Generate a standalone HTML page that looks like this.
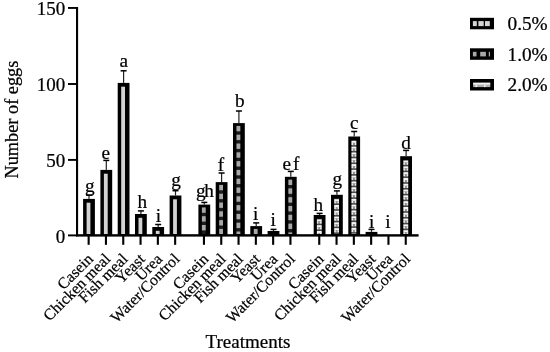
<!DOCTYPE html>
<html><head><meta charset="utf-8"><title>Number of eggs by treatment</title>
<style>
html,body{margin:0;padding:0;background:#fff;overflow:hidden;}
svg{display:block;}
text{font-family:"Liberation Serif","Times New Roman",serif;fill:#000;stroke:#000;stroke-width:0.22px;}
</style></head><body>
<svg width="550" height="352" viewBox="0 0 550 352">
<rect x="76" y="7" width="2.1" height="229.2" fill="#000"/>
<rect x="76" y="234.2" width="342.6" height="2.4" fill="#000"/>
<rect x="68" y="234.45" width="9" height="1.9" fill="#000"/>
<text transform="translate(65.3,242.80) scale(1.04,1)" font-size="18.3" text-anchor="end">0</text>
<rect x="68" y="158.95" width="9" height="1.9" fill="#000"/>
<text transform="translate(65.3,167.30) scale(1.04,1)" font-size="18.3" text-anchor="end">50</text>
<rect x="68" y="83.05" width="9" height="1.9" fill="#000"/>
<text transform="translate(65.3,91.30) scale(1.04,1)" font-size="18.3" text-anchor="end">100</text>
<rect x="68" y="7.00" width="9" height="1.9" fill="#000"/>
<text transform="translate(65.3,14.90) scale(1.04,1)" font-size="18.3" text-anchor="end">150</text>
<rect x="87.60" y="235" width="2.1" height="9.8" fill="#000"/>
<rect x="83.10" y="198.90" width="11.8" height="36.10" fill="#000"/>
<rect x="86.60" y="202.70" width="3.80" height="31.30" fill="#d3d3d3"/>
<rect x="88.40" y="195.00" width="1.2" height="3.90" fill="#222"/>
<rect x="86.00" y="194.25" width="6" height="1.5" fill="#000"/>
<text transform="translate(89.80,192.30) scale(1.04,1)" font-size="18.5" text-anchor="middle">g</text>
<text transform="translate(94.00,260) scale(1.0,1) rotate(-45)" font-size="15.8" text-anchor="end">Casein</text>
<rect x="104.90" y="235" width="2.1" height="9.8" fill="#000"/>
<rect x="100.40" y="169.90" width="11.8" height="65.10" fill="#000"/>
<rect x="103.90" y="173.70" width="3.80" height="60.30" fill="#d3d3d3"/>
<rect x="105.70" y="160.40" width="1.2" height="9.50" fill="#222"/>
<rect x="103.30" y="159.65" width="6" height="1.5" fill="#000"/>
<text transform="translate(105.80,159.00) scale(1.04,1)" font-size="18.5" text-anchor="middle">e</text>
<text transform="translate(111.30,260) scale(1.0,1) rotate(-45)" font-size="15.8" text-anchor="end">Chicken meal</text>
<rect x="122.20" y="235" width="2.1" height="9.8" fill="#000"/>
<rect x="117.70" y="82.90" width="11.8" height="152.10" fill="#000"/>
<rect x="121.20" y="86.70" width="3.80" height="147.30" fill="#d3d3d3"/>
<rect x="123.00" y="70.80" width="1.2" height="12.10" fill="#222"/>
<rect x="120.60" y="70.05" width="6" height="1.5" fill="#000"/>
<text transform="translate(123.80,66.90) scale(1.04,1)" font-size="18.5" text-anchor="middle">a</text>
<text transform="translate(128.60,260) scale(1.0,1) rotate(-45)" font-size="15.8" text-anchor="end">Fish meal</text>
<rect x="139.50" y="235" width="2.1" height="9.8" fill="#000"/>
<rect x="135.00" y="214.00" width="11.8" height="21.00" fill="#000"/>
<rect x="138.50" y="217.80" width="3.80" height="16.20" fill="#d3d3d3"/>
<rect x="140.30" y="210.90" width="1.2" height="3.10" fill="#222"/>
<rect x="137.90" y="210.15" width="6" height="1.5" fill="#000"/>
<text transform="translate(142.30,207.80) scale(1.04,1)" font-size="18.5" text-anchor="middle">h</text>
<text transform="translate(145.90,260) scale(1.0,1) rotate(-45)" font-size="15.8" text-anchor="end">Yeast</text>
<rect x="156.80" y="235" width="2.1" height="9.8" fill="#000"/>
<rect x="152.30" y="227.00" width="11.8" height="8.00" fill="#000"/>
<rect x="155.80" y="230.80" width="3.80" height="3.20" fill="#d3d3d3"/>
<rect x="157.60" y="224.50" width="1.2" height="2.50" fill="#222"/>
<rect x="155.20" y="223.75" width="6" height="1.5" fill="#000"/>
<text transform="translate(158.40,222.40) scale(1.04,1)" font-size="18.5" text-anchor="middle">i</text>
<text transform="translate(163.20,260) scale(1.0,1) rotate(-45)" font-size="15.8" text-anchor="end">Urea</text>
<rect x="174.10" y="235" width="2.1" height="9.8" fill="#000"/>
<rect x="169.60" y="195.50" width="11.8" height="39.50" fill="#000"/>
<rect x="173.10" y="199.30" width="3.80" height="34.70" fill="#d3d3d3"/>
<rect x="174.90" y="190.70" width="1.2" height="4.80" fill="#222"/>
<rect x="172.50" y="189.95" width="6" height="1.5" fill="#000"/>
<text transform="translate(176.10,186.00) scale(1.04,1)" font-size="18.5" text-anchor="middle">g</text>
<text transform="translate(180.50,260) scale(1.0,1) rotate(-45)" font-size="15.8" text-anchor="end">Water/Control</text>
<rect x="202.90" y="235" width="2.1" height="9.8" fill="#000"/>
<rect x="198.40" y="204.60" width="11.8" height="30.40" fill="#000"/>
<rect x="201.90" y="208.40" width="3.80" height="25.60" fill="#1c1c1c"/>
<rect x="201.90" y="207.40" width="3.80" height="5.40" fill="#a8a8a8"/>
<rect x="201.90" y="216.20" width="3.80" height="5.40" fill="#a8a8a8"/>
<rect x="201.90" y="225.00" width="3.80" height="5.40" fill="#a8a8a8"/>
<rect x="203.70" y="202.40" width="1.2" height="2.20" fill="#222"/>
<rect x="201.30" y="201.65" width="6" height="1.5" fill="#000"/>
<text transform="translate(204.28,196.50) scale(1.04,1)" font-size="18.5" text-anchor="middle" letter-spacing="-1.2">gh</text>
<text transform="translate(209.30,260) scale(1.0,1) rotate(-45)" font-size="15.8" text-anchor="end">Casein</text>
<rect x="220.20" y="235" width="2.1" height="9.8" fill="#000"/>
<rect x="215.70" y="182.10" width="11.8" height="52.90" fill="#000"/>
<rect x="219.20" y="185.90" width="3.80" height="48.10" fill="#1c1c1c"/>
<rect x="219.20" y="184.90" width="3.80" height="5.40" fill="#a8a8a8"/>
<rect x="219.20" y="193.70" width="3.80" height="5.40" fill="#a8a8a8"/>
<rect x="219.20" y="202.50" width="3.80" height="5.40" fill="#a8a8a8"/>
<rect x="219.20" y="211.30" width="3.80" height="5.40" fill="#a8a8a8"/>
<rect x="219.20" y="220.10" width="3.80" height="5.40" fill="#a8a8a8"/>
<rect x="219.20" y="228.90" width="3.80" height="5.10" fill="#a8a8a8"/>
<rect x="221.00" y="173.00" width="1.2" height="9.10" fill="#222"/>
<rect x="218.60" y="172.25" width="6" height="1.5" fill="#000"/>
<text transform="translate(221.00,171.40) scale(1.04,1)" font-size="18.5" text-anchor="middle">f</text>
<text transform="translate(226.60,260) scale(1.0,1) rotate(-45)" font-size="15.8" text-anchor="end">Chicken meal</text>
<rect x="237.50" y="235" width="2.1" height="9.8" fill="#000"/>
<rect x="233.00" y="123.10" width="11.8" height="111.90" fill="#000"/>
<rect x="236.50" y="126.90" width="3.80" height="107.10" fill="#1c1c1c"/>
<rect x="236.50" y="125.90" width="3.80" height="5.40" fill="#a8a8a8"/>
<rect x="236.50" y="134.70" width="3.80" height="5.40" fill="#a8a8a8"/>
<rect x="236.50" y="143.50" width="3.80" height="5.40" fill="#a8a8a8"/>
<rect x="236.50" y="152.30" width="3.80" height="5.40" fill="#a8a8a8"/>
<rect x="236.50" y="161.10" width="3.80" height="5.40" fill="#a8a8a8"/>
<rect x="236.50" y="169.90" width="3.80" height="5.40" fill="#a8a8a8"/>
<rect x="236.50" y="178.70" width="3.80" height="5.40" fill="#a8a8a8"/>
<rect x="236.50" y="187.50" width="3.80" height="5.40" fill="#a8a8a8"/>
<rect x="236.50" y="196.30" width="3.80" height="5.40" fill="#a8a8a8"/>
<rect x="236.50" y="205.10" width="3.80" height="5.40" fill="#a8a8a8"/>
<rect x="236.50" y="213.90" width="3.80" height="5.40" fill="#a8a8a8"/>
<rect x="236.50" y="222.70" width="3.80" height="5.40" fill="#a8a8a8"/>
<rect x="236.50" y="231.50" width="3.80" height="2.50" fill="#a8a8a8"/>
<rect x="238.30" y="111.00" width="1.2" height="12.10" fill="#222"/>
<rect x="235.90" y="110.25" width="6" height="1.5" fill="#000"/>
<text transform="translate(239.80,107.40) scale(1.04,1)" font-size="18.5" text-anchor="middle">b</text>
<text transform="translate(243.90,260) scale(1.0,1) rotate(-45)" font-size="15.8" text-anchor="end">Fish meal</text>
<rect x="254.80" y="235" width="2.1" height="9.8" fill="#000"/>
<rect x="250.30" y="226.10" width="11.8" height="8.90" fill="#000"/>
<rect x="253.80" y="229.90" width="3.80" height="4.10" fill="#1c1c1c"/>
<rect x="253.80" y="228.90" width="3.80" height="5.10" fill="#a8a8a8"/>
<rect x="255.60" y="222.90" width="1.2" height="3.20" fill="#222"/>
<rect x="253.20" y="222.15" width="6" height="1.5" fill="#000"/>
<text transform="translate(255.70,219.80) scale(1.04,1)" font-size="18.5" text-anchor="middle">i</text>
<text transform="translate(261.20,260) scale(1.0,1) rotate(-45)" font-size="15.8" text-anchor="end">Yeast</text>
<rect x="272.10" y="235" width="2.1" height="9.8" fill="#000"/>
<rect x="267.60" y="231.00" width="11.8" height="4.00" fill="#000"/>
<rect x="272.90" y="229.40" width="1.2" height="1.60" fill="#222"/>
<rect x="270.50" y="228.65" width="6" height="1.5" fill="#000"/>
<text transform="translate(273.15,225.80) scale(1.04,1)" font-size="18.5" text-anchor="middle">i</text>
<text transform="translate(278.50,260) scale(1.0,1) rotate(-45)" font-size="15.8" text-anchor="end">Urea</text>
<rect x="289.40" y="235" width="2.1" height="9.8" fill="#000"/>
<rect x="284.90" y="176.80" width="11.8" height="58.20" fill="#000"/>
<rect x="288.40" y="180.60" width="3.80" height="53.40" fill="#1c1c1c"/>
<rect x="288.40" y="179.60" width="3.80" height="5.40" fill="#a8a8a8"/>
<rect x="288.40" y="188.40" width="3.80" height="5.40" fill="#a8a8a8"/>
<rect x="288.40" y="197.20" width="3.80" height="5.40" fill="#a8a8a8"/>
<rect x="288.40" y="206.00" width="3.80" height="5.40" fill="#a8a8a8"/>
<rect x="288.40" y="214.80" width="3.80" height="5.40" fill="#a8a8a8"/>
<rect x="288.40" y="223.60" width="3.80" height="5.40" fill="#a8a8a8"/>
<rect x="288.40" y="232.40" width="3.80" height="1.60" fill="#a8a8a8"/>
<rect x="290.20" y="171.40" width="1.2" height="5.40" fill="#222"/>
<rect x="287.80" y="170.65" width="6" height="1.5" fill="#000"/>
<text transform="translate(292.04,170.30) scale(1.04,1)" font-size="18.5" text-anchor="middle" letter-spacing="2.0">ef</text>
<text transform="translate(295.80,260) scale(1.0,1) rotate(-45)" font-size="15.8" text-anchor="end">Water/Control</text>
<rect x="318.20" y="235" width="2.1" height="9.8" fill="#000"/>
<rect x="313.70" y="215.00" width="11.8" height="20.00" fill="#000"/>
<rect x="316.90" y="218.80" width="4.80" height="15.20" fill="#4a4a4a"/>
<rect x="316.90" y="219.40" width="4.80" height="2.00" fill="#f4f4f4"/>
<rect x="316.90" y="221.40" width="1.73" height="2.20" fill="#ececec"/>
<rect x="319.97" y="221.40" width="1.73" height="2.20" fill="#ececec"/>
<rect x="318.63" y="221.40" width="1.34" height="2.20" fill="#9a9a9a"/>
<rect x="316.90" y="225.20" width="4.80" height="2.00" fill="#f4f4f4"/>
<rect x="316.90" y="227.20" width="1.73" height="2.20" fill="#ececec"/>
<rect x="319.97" y="227.20" width="1.73" height="2.20" fill="#ececec"/>
<rect x="318.63" y="227.20" width="1.34" height="2.20" fill="#9a9a9a"/>
<rect x="316.90" y="231.00" width="4.80" height="2.00" fill="#f4f4f4"/>
<rect x="316.90" y="233.00" width="1.73" height="1.00" fill="#ececec"/>
<rect x="319.97" y="233.00" width="1.73" height="1.00" fill="#ececec"/>
<rect x="318.63" y="233.00" width="1.34" height="1.00" fill="#9a9a9a"/>
<rect x="319.00" y="213.40" width="1.2" height="1.60" fill="#222"/>
<rect x="316.60" y="212.65" width="6" height="1.5" fill="#000"/>
<text transform="translate(318.40,211.40) scale(1.04,1)" font-size="18.5" text-anchor="middle">h</text>
<text transform="translate(324.60,260) scale(1.0,1) rotate(-45)" font-size="15.8" text-anchor="end">Casein</text>
<rect x="335.50" y="235" width="2.1" height="9.8" fill="#000"/>
<rect x="331.00" y="194.80" width="11.8" height="40.20" fill="#000"/>
<rect x="334.20" y="198.60" width="4.80" height="35.40" fill="#4a4a4a"/>
<rect x="334.20" y="199.20" width="4.80" height="2.00" fill="#f4f4f4"/>
<rect x="334.20" y="201.20" width="1.73" height="2.20" fill="#ececec"/>
<rect x="337.27" y="201.20" width="1.73" height="2.20" fill="#ececec"/>
<rect x="335.93" y="201.20" width="1.34" height="2.20" fill="#9a9a9a"/>
<rect x="334.20" y="205.00" width="4.80" height="2.00" fill="#f4f4f4"/>
<rect x="334.20" y="207.00" width="1.73" height="2.20" fill="#ececec"/>
<rect x="337.27" y="207.00" width="1.73" height="2.20" fill="#ececec"/>
<rect x="335.93" y="207.00" width="1.34" height="2.20" fill="#9a9a9a"/>
<rect x="334.20" y="210.80" width="4.80" height="2.00" fill="#f4f4f4"/>
<rect x="334.20" y="212.80" width="1.73" height="2.20" fill="#ececec"/>
<rect x="337.27" y="212.80" width="1.73" height="2.20" fill="#ececec"/>
<rect x="335.93" y="212.80" width="1.34" height="2.20" fill="#9a9a9a"/>
<rect x="334.20" y="216.60" width="4.80" height="2.00" fill="#f4f4f4"/>
<rect x="334.20" y="218.60" width="1.73" height="2.20" fill="#ececec"/>
<rect x="337.27" y="218.60" width="1.73" height="2.20" fill="#ececec"/>
<rect x="335.93" y="218.60" width="1.34" height="2.20" fill="#9a9a9a"/>
<rect x="334.20" y="222.40" width="4.80" height="2.00" fill="#f4f4f4"/>
<rect x="334.20" y="224.40" width="1.73" height="2.20" fill="#ececec"/>
<rect x="337.27" y="224.40" width="1.73" height="2.20" fill="#ececec"/>
<rect x="335.93" y="224.40" width="1.34" height="2.20" fill="#9a9a9a"/>
<rect x="334.20" y="228.20" width="4.80" height="2.00" fill="#f4f4f4"/>
<rect x="334.20" y="230.20" width="1.73" height="2.20" fill="#ececec"/>
<rect x="337.27" y="230.20" width="1.73" height="2.20" fill="#ececec"/>
<rect x="335.93" y="230.20" width="1.34" height="2.20" fill="#9a9a9a"/>
<rect x="336.30" y="190.90" width="1.2" height="3.90" fill="#222"/>
<rect x="333.90" y="190.15" width="6" height="1.5" fill="#000"/>
<text transform="translate(337.30,185.20) scale(1.04,1)" font-size="18.5" text-anchor="middle">g</text>
<text transform="translate(341.90,260) scale(1.0,1) rotate(-45)" font-size="15.8" text-anchor="end">Chicken meal</text>
<rect x="352.80" y="235" width="2.1" height="9.8" fill="#000"/>
<rect x="348.30" y="136.50" width="11.8" height="98.50" fill="#000"/>
<rect x="351.50" y="140.30" width="4.80" height="93.70" fill="#4a4a4a"/>
<rect x="351.50" y="140.90" width="4.80" height="2.00" fill="#f4f4f4"/>
<rect x="351.50" y="142.90" width="1.73" height="2.20" fill="#ececec"/>
<rect x="354.57" y="142.90" width="1.73" height="2.20" fill="#ececec"/>
<rect x="353.23" y="142.90" width="1.34" height="2.20" fill="#9a9a9a"/>
<rect x="351.50" y="146.70" width="4.80" height="2.00" fill="#f4f4f4"/>
<rect x="351.50" y="148.70" width="1.73" height="2.20" fill="#ececec"/>
<rect x="354.57" y="148.70" width="1.73" height="2.20" fill="#ececec"/>
<rect x="353.23" y="148.70" width="1.34" height="2.20" fill="#9a9a9a"/>
<rect x="351.50" y="152.50" width="4.80" height="2.00" fill="#f4f4f4"/>
<rect x="351.50" y="154.50" width="1.73" height="2.20" fill="#ececec"/>
<rect x="354.57" y="154.50" width="1.73" height="2.20" fill="#ececec"/>
<rect x="353.23" y="154.50" width="1.34" height="2.20" fill="#9a9a9a"/>
<rect x="351.50" y="158.30" width="4.80" height="2.00" fill="#f4f4f4"/>
<rect x="351.50" y="160.30" width="1.73" height="2.20" fill="#ececec"/>
<rect x="354.57" y="160.30" width="1.73" height="2.20" fill="#ececec"/>
<rect x="353.23" y="160.30" width="1.34" height="2.20" fill="#9a9a9a"/>
<rect x="351.50" y="164.10" width="4.80" height="2.00" fill="#f4f4f4"/>
<rect x="351.50" y="166.10" width="1.73" height="2.20" fill="#ececec"/>
<rect x="354.57" y="166.10" width="1.73" height="2.20" fill="#ececec"/>
<rect x="353.23" y="166.10" width="1.34" height="2.20" fill="#9a9a9a"/>
<rect x="351.50" y="169.90" width="4.80" height="2.00" fill="#f4f4f4"/>
<rect x="351.50" y="171.90" width="1.73" height="2.20" fill="#ececec"/>
<rect x="354.57" y="171.90" width="1.73" height="2.20" fill="#ececec"/>
<rect x="353.23" y="171.90" width="1.34" height="2.20" fill="#9a9a9a"/>
<rect x="351.50" y="175.70" width="4.80" height="2.00" fill="#f4f4f4"/>
<rect x="351.50" y="177.70" width="1.73" height="2.20" fill="#ececec"/>
<rect x="354.57" y="177.70" width="1.73" height="2.20" fill="#ececec"/>
<rect x="353.23" y="177.70" width="1.34" height="2.20" fill="#9a9a9a"/>
<rect x="351.50" y="181.50" width="4.80" height="2.00" fill="#f4f4f4"/>
<rect x="351.50" y="183.50" width="1.73" height="2.20" fill="#ececec"/>
<rect x="354.57" y="183.50" width="1.73" height="2.20" fill="#ececec"/>
<rect x="353.23" y="183.50" width="1.34" height="2.20" fill="#9a9a9a"/>
<rect x="351.50" y="187.30" width="4.80" height="2.00" fill="#f4f4f4"/>
<rect x="351.50" y="189.30" width="1.73" height="2.20" fill="#ececec"/>
<rect x="354.57" y="189.30" width="1.73" height="2.20" fill="#ececec"/>
<rect x="353.23" y="189.30" width="1.34" height="2.20" fill="#9a9a9a"/>
<rect x="351.50" y="193.10" width="4.80" height="2.00" fill="#f4f4f4"/>
<rect x="351.50" y="195.10" width="1.73" height="2.20" fill="#ececec"/>
<rect x="354.57" y="195.10" width="1.73" height="2.20" fill="#ececec"/>
<rect x="353.23" y="195.10" width="1.34" height="2.20" fill="#9a9a9a"/>
<rect x="351.50" y="198.90" width="4.80" height="2.00" fill="#f4f4f4"/>
<rect x="351.50" y="200.90" width="1.73" height="2.20" fill="#ececec"/>
<rect x="354.57" y="200.90" width="1.73" height="2.20" fill="#ececec"/>
<rect x="353.23" y="200.90" width="1.34" height="2.20" fill="#9a9a9a"/>
<rect x="351.50" y="204.70" width="4.80" height="2.00" fill="#f4f4f4"/>
<rect x="351.50" y="206.70" width="1.73" height="2.20" fill="#ececec"/>
<rect x="354.57" y="206.70" width="1.73" height="2.20" fill="#ececec"/>
<rect x="353.23" y="206.70" width="1.34" height="2.20" fill="#9a9a9a"/>
<rect x="351.50" y="210.50" width="4.80" height="2.00" fill="#f4f4f4"/>
<rect x="351.50" y="212.50" width="1.73" height="2.20" fill="#ececec"/>
<rect x="354.57" y="212.50" width="1.73" height="2.20" fill="#ececec"/>
<rect x="353.23" y="212.50" width="1.34" height="2.20" fill="#9a9a9a"/>
<rect x="351.50" y="216.30" width="4.80" height="2.00" fill="#f4f4f4"/>
<rect x="351.50" y="218.30" width="1.73" height="2.20" fill="#ececec"/>
<rect x="354.57" y="218.30" width="1.73" height="2.20" fill="#ececec"/>
<rect x="353.23" y="218.30" width="1.34" height="2.20" fill="#9a9a9a"/>
<rect x="351.50" y="222.10" width="4.80" height="2.00" fill="#f4f4f4"/>
<rect x="351.50" y="224.10" width="1.73" height="2.20" fill="#ececec"/>
<rect x="354.57" y="224.10" width="1.73" height="2.20" fill="#ececec"/>
<rect x="353.23" y="224.10" width="1.34" height="2.20" fill="#9a9a9a"/>
<rect x="351.50" y="227.90" width="4.80" height="2.00" fill="#f4f4f4"/>
<rect x="351.50" y="229.90" width="1.73" height="2.20" fill="#ececec"/>
<rect x="354.57" y="229.90" width="1.73" height="2.20" fill="#ececec"/>
<rect x="353.23" y="229.90" width="1.34" height="2.20" fill="#9a9a9a"/>
<rect x="351.50" y="233.70" width="4.80" height="0.30" fill="#f4f4f4"/>
<rect x="353.60" y="131.50" width="1.2" height="5.00" fill="#222"/>
<rect x="351.20" y="130.75" width="6" height="1.5" fill="#000"/>
<text transform="translate(354.20,129.20) scale(1.04,1)" font-size="18.5" text-anchor="middle">c</text>
<text transform="translate(359.20,260) scale(1.0,1) rotate(-45)" font-size="15.8" text-anchor="end">Fish meal</text>
<rect x="370.10" y="235" width="2.1" height="9.8" fill="#000"/>
<rect x="365.60" y="231.90" width="11.8" height="3.10" fill="#000"/>
<rect x="370.90" y="229.40" width="1.2" height="2.50" fill="#222"/>
<rect x="368.50" y="228.65" width="6" height="1.5" fill="#000"/>
<text transform="translate(371.65,227.90) scale(1.04,1)" font-size="18.5" text-anchor="middle">i</text>
<text transform="translate(376.50,260) scale(1.0,1) rotate(-45)" font-size="15.8" text-anchor="end">Yeast</text>
<rect x="387.40" y="235" width="2.1" height="9.8" fill="#000"/>
<text transform="translate(388.05,228.00) scale(1.04,1)" font-size="18.5" text-anchor="middle">i</text>
<text transform="translate(393.80,260) scale(1.0,1) rotate(-45)" font-size="15.8" text-anchor="end">Urea</text>
<rect x="404.70" y="235" width="2.1" height="9.8" fill="#000"/>
<rect x="400.20" y="156.20" width="11.8" height="78.80" fill="#000"/>
<rect x="403.40" y="160.00" width="4.80" height="74.00" fill="#4a4a4a"/>
<rect x="403.40" y="160.60" width="4.80" height="2.00" fill="#f4f4f4"/>
<rect x="403.40" y="162.60" width="1.73" height="2.20" fill="#ececec"/>
<rect x="406.47" y="162.60" width="1.73" height="2.20" fill="#ececec"/>
<rect x="405.13" y="162.60" width="1.34" height="2.20" fill="#9a9a9a"/>
<rect x="403.40" y="166.40" width="4.80" height="2.00" fill="#f4f4f4"/>
<rect x="403.40" y="168.40" width="1.73" height="2.20" fill="#ececec"/>
<rect x="406.47" y="168.40" width="1.73" height="2.20" fill="#ececec"/>
<rect x="405.13" y="168.40" width="1.34" height="2.20" fill="#9a9a9a"/>
<rect x="403.40" y="172.20" width="4.80" height="2.00" fill="#f4f4f4"/>
<rect x="403.40" y="174.20" width="1.73" height="2.20" fill="#ececec"/>
<rect x="406.47" y="174.20" width="1.73" height="2.20" fill="#ececec"/>
<rect x="405.13" y="174.20" width="1.34" height="2.20" fill="#9a9a9a"/>
<rect x="403.40" y="178.00" width="4.80" height="2.00" fill="#f4f4f4"/>
<rect x="403.40" y="180.00" width="1.73" height="2.20" fill="#ececec"/>
<rect x="406.47" y="180.00" width="1.73" height="2.20" fill="#ececec"/>
<rect x="405.13" y="180.00" width="1.34" height="2.20" fill="#9a9a9a"/>
<rect x="403.40" y="183.80" width="4.80" height="2.00" fill="#f4f4f4"/>
<rect x="403.40" y="185.80" width="1.73" height="2.20" fill="#ececec"/>
<rect x="406.47" y="185.80" width="1.73" height="2.20" fill="#ececec"/>
<rect x="405.13" y="185.80" width="1.34" height="2.20" fill="#9a9a9a"/>
<rect x="403.40" y="189.60" width="4.80" height="2.00" fill="#f4f4f4"/>
<rect x="403.40" y="191.60" width="1.73" height="2.20" fill="#ececec"/>
<rect x="406.47" y="191.60" width="1.73" height="2.20" fill="#ececec"/>
<rect x="405.13" y="191.60" width="1.34" height="2.20" fill="#9a9a9a"/>
<rect x="403.40" y="195.40" width="4.80" height="2.00" fill="#f4f4f4"/>
<rect x="403.40" y="197.40" width="1.73" height="2.20" fill="#ececec"/>
<rect x="406.47" y="197.40" width="1.73" height="2.20" fill="#ececec"/>
<rect x="405.13" y="197.40" width="1.34" height="2.20" fill="#9a9a9a"/>
<rect x="403.40" y="201.20" width="4.80" height="2.00" fill="#f4f4f4"/>
<rect x="403.40" y="203.20" width="1.73" height="2.20" fill="#ececec"/>
<rect x="406.47" y="203.20" width="1.73" height="2.20" fill="#ececec"/>
<rect x="405.13" y="203.20" width="1.34" height="2.20" fill="#9a9a9a"/>
<rect x="403.40" y="207.00" width="4.80" height="2.00" fill="#f4f4f4"/>
<rect x="403.40" y="209.00" width="1.73" height="2.20" fill="#ececec"/>
<rect x="406.47" y="209.00" width="1.73" height="2.20" fill="#ececec"/>
<rect x="405.13" y="209.00" width="1.34" height="2.20" fill="#9a9a9a"/>
<rect x="403.40" y="212.80" width="4.80" height="2.00" fill="#f4f4f4"/>
<rect x="403.40" y="214.80" width="1.73" height="2.20" fill="#ececec"/>
<rect x="406.47" y="214.80" width="1.73" height="2.20" fill="#ececec"/>
<rect x="405.13" y="214.80" width="1.34" height="2.20" fill="#9a9a9a"/>
<rect x="403.40" y="218.60" width="4.80" height="2.00" fill="#f4f4f4"/>
<rect x="403.40" y="220.60" width="1.73" height="2.20" fill="#ececec"/>
<rect x="406.47" y="220.60" width="1.73" height="2.20" fill="#ececec"/>
<rect x="405.13" y="220.60" width="1.34" height="2.20" fill="#9a9a9a"/>
<rect x="403.40" y="224.40" width="4.80" height="2.00" fill="#f4f4f4"/>
<rect x="403.40" y="226.40" width="1.73" height="2.20" fill="#ececec"/>
<rect x="406.47" y="226.40" width="1.73" height="2.20" fill="#ececec"/>
<rect x="405.13" y="226.40" width="1.34" height="2.20" fill="#9a9a9a"/>
<rect x="403.40" y="230.20" width="4.80" height="2.00" fill="#f4f4f4"/>
<rect x="403.40" y="232.20" width="1.73" height="1.80" fill="#ececec"/>
<rect x="406.47" y="232.20" width="1.73" height="1.80" fill="#ececec"/>
<rect x="405.13" y="232.20" width="1.34" height="1.80" fill="#9a9a9a"/>
<rect x="405.50" y="150.40" width="1.2" height="5.80" fill="#222"/>
<rect x="403.10" y="149.65" width="6" height="1.5" fill="#000"/>
<text transform="translate(406.10,148.50) scale(1.04,1)" font-size="18.5" text-anchor="middle">d</text>
<text transform="translate(411.10,260) scale(1.0,1) rotate(-45)" font-size="15.8" text-anchor="end">Water/Control</text>
<text transform="translate(17.6,119.6) rotate(-90)" font-size="18.3" text-anchor="middle">Number of eggs</text>
<text transform="translate(248,347.6) scale(1.04,1)" font-size="18.3" text-anchor="middle">Treatments</text>
<rect x="470" y="17.8" width="24" height="11.5" fill="#000"/>
<rect x="472.9" y="21.10" width="3.90" height="5" fill="#d6d6d6"/>
<rect x="478.4" y="21.10" width="5.30" height="5" fill="#d6d6d6"/>
<rect x="485.0" y="21.10" width="4.80" height="5" fill="#d6d6d6"/>
<text transform="translate(507.5,29.5) scale(1.055,1)" font-size="18.3">0.5%</text>
<rect x="470" y="48.3" width="24" height="11.5" fill="#000"/>
<rect x="472.9" y="51.80" width="3.60" height="4.6" fill="#a8a8a8"/>
<rect x="480.2" y="51.80" width="5.70" height="4.6" fill="#a8a8a8"/>
<rect x="488.8" y="51.80" width="1.20" height="4.6" fill="#a8a8a8"/>
<text transform="translate(507.5,60.9) scale(1.055,1)" font-size="18.3">1.0%</text>
<rect x="470" y="79.0" width="24" height="11.5" fill="#000"/>
<rect x="473.1" y="82.60" width="17.2" height="2.3" fill="#f4f4f4"/>
<rect x="473.1" y="84.90" width="17.2" height="2.2" fill="#b0b0b0"/>
<rect x="475.5" y="84.90" width="1.6" height="2.2" fill="#f0f0f0"/>
<rect x="484.0" y="84.90" width="1.6" height="2.2" fill="#f0f0f0"/>
<text transform="translate(507.5,91.4) scale(1.055,1)" font-size="18.3">2.0%</text>
</svg></body></html>
